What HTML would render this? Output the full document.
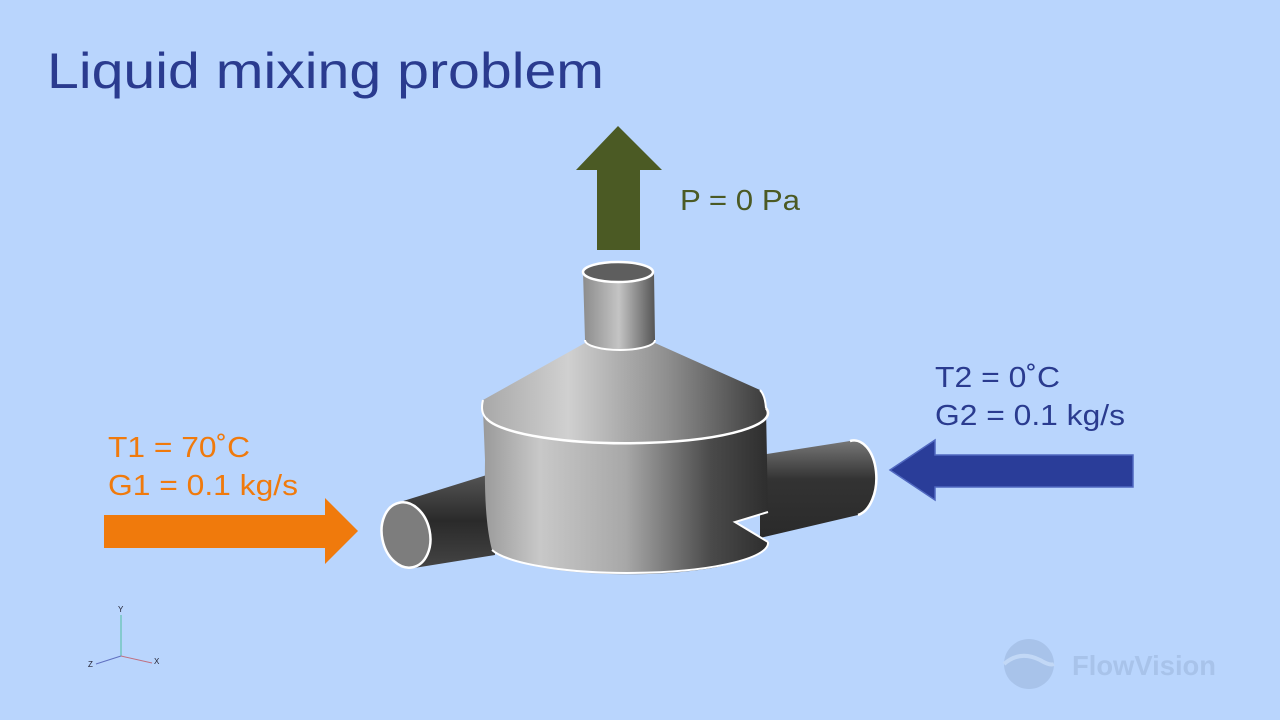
<!DOCTYPE html>
<html><head><meta charset="utf-8"><style>
html,body{margin:0;padding:0;background:#b9d5fd;}
svg{display:block}
text{font-family:"Liberation Sans",sans-serif}
</style></head><body>
<svg width="1280" height="720" viewBox="0 0 1280 720" xmlns="http://www.w3.org/2000/svg">
<defs>
<linearGradient id="cyl" x1="0" x2="1" y1="0" y2="0">
<stop offset="0" stop-color="#9a9a9a"/><stop offset="0.2" stop-color="#c8c8c8"/><stop offset="0.5" stop-color="#a8a8a8"/><stop offset="0.8" stop-color="#4a4a4a"/><stop offset="1" stop-color="#2e2e2e"/>
</linearGradient>
<linearGradient id="cone" x1="0" x2="1" y1="0" y2="0">
<stop offset="0" stop-color="#a8a8a8"/><stop offset="0.3" stop-color="#d0d0d0"/><stop offset="0.65" stop-color="#8e8e8e"/><stop offset="1" stop-color="#3a3a3a"/>
</linearGradient>
<linearGradient id="pipeL" x1="0" x2="0" y1="0" y2="1">
<stop offset="0" stop-color="#555"/><stop offset="0.5" stop-color="#2a2a2a"/><stop offset="1" stop-color="#444"/>
</linearGradient>
<linearGradient id="pipeR" x1="0" x2="0" y1="0" y2="1">
<stop offset="0" stop-color="#777"/><stop offset="0.4" stop-color="#333"/><stop offset="1" stop-color="#2a2a2a"/>
</linearGradient>
<linearGradient id="top" x1="0" x2="1"><stop offset="0" stop-color="#8c8c8c"/><stop offset="0.5" stop-color="#c4c4c4"/><stop offset="1" stop-color="#555"/></linearGradient>
</defs>
<rect width="1280" height="720" fill="#b9d5fd"/>
<text x="47" y="88" font-size="50" fill="#2a3b8f" textLength="557" lengthAdjust="spacingAndGlyphs">Liquid mixing problem</text>

<polygon points="597,250 640,250 640,170 662,170 618,126 576,170 597,170" fill="#4b5a24"/>
<text x="680" y="210" font-size="29" fill="#4b5a24" textLength="120" lengthAdjust="spacingAndGlyphs">P = 0 Pa</text>

<polygon points="104,515 325,515 325,498 358,531 325,564 325,548 104,548" fill="#f07a0c"/>
<text x="108" y="457" font-size="29" fill="#f07a0c" textLength="142" lengthAdjust="spacingAndGlyphs">T1 = 70˚C</text>
<text x="108" y="495" font-size="29" fill="#f07a0c" textLength="190" lengthAdjust="spacingAndGlyphs">G1 = 0.1 kg/s</text>

<polygon points="1133,455 935,455 935,440 890,470 935,500 935,487 1133,487" fill="#2a3d99" stroke="#5068c0" stroke-width="1.5"/>
<text x="935" y="387" font-size="29" fill="#2a3b8f" textLength="125" lengthAdjust="spacingAndGlyphs">T2 = 0˚C</text>
<text x="935" y="425" font-size="29" fill="#2a3b8f" textLength="190" lengthAdjust="spacingAndGlyphs">G2 = 0.1 kg/s</text>

<path d="M400,502 L490,474 L495,555 L414,568 Z" fill="url(#pipeL)"/>
<path d="M760,455 L850,441 A22,37 0 0 1 858,515 L760,538 Z" fill="url(#pipeR)"/>
<path d="M850,441 A22,37 0 0 1 858,515" fill="none" stroke="#fff" stroke-width="2.5"/>

<path d="M483,410 L485,460 Q484,520 492,550 A140,32 0 0 0 768,542 L735,522 L768,512 L766,408 Z" fill="url(#cyl)"/>
<path d="M492,550 A140,30 0 0 0 768,542" fill="none" stroke="#fff" stroke-width="2"/>
<path d="M768,542 L735,522 L768,512" fill="none" stroke="#fff" stroke-width="2"/>
<path d="M585,343 L483,400 Q480,412 486,418 A141,30 0 0 0 766,408 Q765,395 760,390 L655,343 Z" fill="url(#cone)"/>
<path d="M486,418 A141,30 0 0 0 766,408" fill="none" stroke="#fff" stroke-width="2.5"/>
<path d="M483,400 Q480,412 486,418" fill="none" stroke="#fff" stroke-width="2"/>
<path d="M766,408 Q765,395 760,390" fill="none" stroke="#fff" stroke-width="2"/>

<path d="M583,272 L585,340 A35,10 0 0 0 655,340 L654,272 Z" fill="url(#top)"/>
<path d="M585,340 A35,10 0 0 0 655,340" fill="none" stroke="#fff" stroke-width="2"/>
<ellipse cx="618" cy="272" rx="35" ry="10" fill="#5e5e5e" stroke="#fff" stroke-width="2.5"/>

<ellipse cx="406" cy="535" rx="24" ry="33" fill="#7d7d7d" stroke="#fff" stroke-width="2.5" transform="rotate(-12 406 535)"/>

<g stroke-width="1">
<line x1="121" y1="656" x2="121" y2="615" stroke="#50c0a0"/>
<line x1="121" y1="656" x2="152" y2="663" stroke="#c07080"/>
<line x1="121" y1="656" x2="96" y2="664" stroke="#6070c0"/>
</g>
<text x="118" y="612" font-size="8" fill="#223">Y</text>
<text x="154" y="664" font-size="8" fill="#223">X</text>
<text x="88" y="667" font-size="8" fill="#223">Z</text>

<circle cx="1029" cy="664" r="25" fill="#a8c3ea"/>
<path d="M1004,664 Q1020,650 1040,660 Q1050,666 1054,664" fill="none" stroke="#c2d8f6" stroke-width="4"/>
<text x="1072" y="675" font-size="28" font-weight="bold" fill="#a8c3ea" textLength="144" lengthAdjust="spacingAndGlyphs">FlowVision</text>
</svg>
</body></html>
